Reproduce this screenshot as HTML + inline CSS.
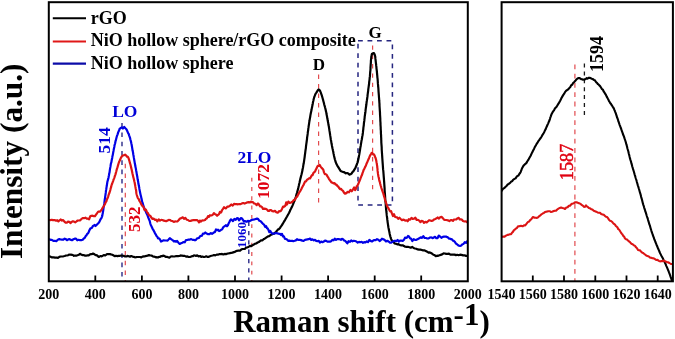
<!DOCTYPE html>
<html><head><meta charset="utf-8"><style>
html,body{margin:0;padding:0;background:#fff;}
body{width:675px;height:339px;overflow:hidden;}
svg{display:block;}
text{font-family:"Liberation Serif","Times New Roman",serif;}
.b{font-weight:bold;}
</style></head><body>
<svg width="675" height="339" viewBox="0 0 675 339">
<rect width="675" height="339" fill="#fff"/>
<line x1="122.0" y1="121.0" x2="122.0" y2="279.0" stroke="#2a2a88" stroke-width="1.4" stroke-dasharray="4.6 4.7" stroke-dashoffset="7.20"/>
<line x1="125.3" y1="160.0" x2="125.3" y2="281.0" stroke="#e24a4e" stroke-width="1.2" stroke-dasharray="4.6 5.1" stroke-dashoffset="6.00"/>
<line x1="248.8" y1="222.0" x2="248.8" y2="280.0" stroke="#2a2a88" stroke-width="1.4" stroke-dasharray="4.3 5.0" stroke-dashoffset="0.30"/>
<line x1="251.8" y1="177.7" x2="251.8" y2="281.0" stroke="#e24a4e" stroke-width="1.2" stroke-dasharray="3.9 5.4" stroke-dashoffset="9.30"/>
<line x1="318.6" y1="74.6" x2="318.6" y2="205.0" stroke="#e24a4e" stroke-width="1.2" stroke-dasharray="4.5 5.0" stroke-dashoffset="9.50"/>
<line x1="372.6" y1="45.5" x2="372.6" y2="194.0" stroke="#e24a4e" stroke-width="1.2" stroke-dasharray="4.3 5.0" stroke-dashoffset="9.30"/>
<rect x="358" y="40.8" width="34.4" height="164.2" fill="none" stroke="#262680" stroke-width="1.5" stroke-dasharray="4.8 4.7"/>
<line x1="584.4" y1="63.5" x2="584.4" y2="116.3" stroke="#1a1a1a" stroke-width="1.3" stroke-dasharray="4.0 3.9" stroke-dashoffset="7.90"/>
<line x1="574.9" y1="64.4" x2="574.9" y2="281.0" stroke="#e24a4e" stroke-width="1.2" stroke-dasharray="4.8 4.5" stroke-dashoffset="9.30"/>
<path d="M49.5 256.4L50.6 256.8L52.0 257.4L53.0 257.4L54.0 257.4L55.0 257.7L56.0 257.5L56.9 257.6L58.0 257.8L59.3 256.9L60.6 256.5L62.0 256.5L63.4 256.3L64.7 256.0L66.0 255.5L67.1 255.5L68.0 255.3L69.0 254.5L70.0 254.8L71.0 254.5L72.0 254.9L72.9 255.0L73.9 255.8L75.0 255.5L76.2 255.7L77.5 255.3L78.8 254.8L80.0 253.8L81.1 254.5L82.1 254.9L83.0 255.2L84.0 255.1L84.9 255.7L86.0 255.7L87.3 255.4L88.7 255.4L90.0 254.4L91.1 254.2L92.0 254.1L93.0 253.5L94.0 254.0L95.0 254.7L96.0 255.2L97.0 255.4L97.9 256.3L99.0 257.0L100.3 256.0L101.7 256.3L103.0 255.6L104.1 255.1L105.0 255.5L106.0 254.8L107.0 254.0L108.0 254.1L109.0 254.2L110.0 254.0L110.9 254.5L112.0 254.6L113.3 255.3L114.6 256.1L116.0 255.8L117.3 256.1L118.7 255.8L120.0 255.8L121.3 255.5L122.5 255.7L124.0 255.9L125.1 256.4L126.3 256.5L127.5 255.9L128.8 256.2L130.0 256.7L131.2 256.0L132.5 256.6L133.7 256.8L134.9 257.3L136.0 257.2L137.5 257.0L138.7 257.0L140.0 257.0L141.3 257.4L142.5 256.6L144.0 256.3L145.1 256.3L146.4 255.9L147.6 255.6L148.9 255.1L150.0 255.4L151.5 255.5L152.8 256.4L154.0 256.7L155.1 256.8L156.0 257.4L157.0 257.2L158.0 257.5L159.0 256.9L160.0 256.8L161.0 256.0L161.9 256.3L163.0 255.7L164.2 255.9L165.6 256.8L167.0 256.9L168.2 257.2L169.4 257.7L170.7 256.5L172.0 256.4L173.2 256.5L174.4 256.5L175.7 256.2L176.9 256.0L178.0 256.2L179.5 256.0L180.7 255.4L182.0 255.7L183.3 255.9L184.7 255.9L186.0 256.6L187.4 256.4L188.7 257.0L190.0 256.8L191.1 256.6L192.0 256.2L193.0 256.2L194.0 255.4L194.9 255.5L196.0 255.9L197.2 255.3L198.6 256.5L200.0 256.0L201.2 256.9L202.4 256.5L203.7 257.0L205.0 256.8L206.3 256.3L207.6 256.9L208.8 256.8L210.0 256.2L211.4 255.8L212.7 255.5L214.0 255.0L215.3 255.4L216.7 254.6L218.0 254.6L219.3 254.2L220.7 254.2L222.0 253.9L223.3 254.5L224.7 253.9L226.0 254.1L227.1 253.7L228.2 253.5L230.0 253.2L231.1 252.8L232.4 252.6L233.9 252.1L235.4 251.6L237.0 250.8L238.5 250.5L240.0 250.7L241.2 249.6L242.5 249.0L243.8 249.0L245.0 248.8L246.2 247.5L247.5 247.4L248.8 246.7L250.0 245.9L251.3 246.1L252.5 245.2L253.8 244.6L255.1 243.7L256.4 243.4L257.6 242.5L258.8 242.0L260.0 241.1L261.3 240.3L262.5 240.4L263.6 239.1L264.7 238.7L265.8 237.9L266.9 237.1L268.0 236.4L269.2 236.1L270.5 235.1L271.7 234.5L272.9 233.9L274.0 233.6L275.0 232.7L276.1 231.7L277.1 230.6L278.1 229.4L279.0 229.1L280.0 228.0L280.7 226.7L281.4 225.9L282.1 224.8L282.8 223.7L283.5 222.5L284.3 221.2L285.0 220.1L285.7 218.7L286.3 217.7L287.0 216.5L287.7 215.2L288.4 214.0L289.1 212.7L289.8 211.2L290.4 209.8L291.0 208.8L291.6 207.4L292.2 206.2L292.7 205.1L293.3 203.6L293.8 202.3L294.3 201.3L294.8 200.0L295.3 198.5L295.8 197.1L296.2 195.6L296.6 194.1L297.0 192.8L297.4 191.3L297.8 189.9L298.2 188.6L298.5 187.1L298.8 185.8L299.1 184.2L299.5 182.8L299.8 181.3L300.1 179.9L300.4 178.6L300.8 177.1L301.1 175.9L301.5 174.5L301.8 173.2L302.2 171.4L302.5 170.1L302.7 168.8L303.0 167.5L303.2 166.1L303.4 164.8L303.7 163.6L303.9 162.1L304.1 160.8L304.3 159.4L304.5 158.1L304.7 156.6L304.9 154.9L305.1 153.6L305.3 151.9L305.5 150.3L305.7 149.1L305.9 147.8L306.0 146.3L306.2 144.9L306.4 143.3L306.6 142.0L306.8 140.5L307.0 139.1L307.1 137.7L307.3 136.4L307.5 135.1L307.7 133.7L307.8 132.4L308.0 131.1L308.2 130.0L308.3 128.6L308.5 127.5L308.7 125.9L308.9 124.7L309.1 123.4L309.3 121.9L309.5 120.8L309.7 119.5L310.0 117.9L310.2 116.7L310.4 115.4L310.7 113.8L310.9 112.7L311.2 111.4L311.5 110.1L311.7 108.8L312.0 107.6L312.2 106.5L312.5 105.1L312.8 103.5L313.0 102.1L313.3 100.9L313.6 99.5L314.0 98.0L314.4 96.6L314.8 95.7L315.2 94.6L315.8 93.4L316.4 92.6L317.0 91.6L317.8 90.3L318.6 89.4L319.4 89.9L320.2 91.2L320.6 92.2L321.0 93.2L321.4 94.3L321.8 95.4L322.2 96.7L322.6 98.2L323.0 99.6L323.4 101.2L323.7 102.3L324.0 103.4L324.3 104.7L324.7 106.1L325.0 107.3L325.4 108.7L325.7 110.1L326.0 111.4L326.3 112.6L326.5 114.1L326.8 115.5L327.1 117.0L327.3 118.3L327.6 119.8L327.8 121.1L328.1 122.4L328.3 123.7L328.5 125.1L328.8 126.3L329.0 127.5L329.2 128.8L329.4 130.2L329.6 131.4L329.8 132.7L330.0 134.0L330.2 135.4L330.4 136.6L330.6 137.9L330.8 139.5L331.1 140.7L331.3 142.2L331.5 143.6L331.8 144.8L332.0 146.0L332.3 147.5L332.5 148.5L332.8 149.6L333.0 150.7L333.3 152.0L333.5 153.4L333.8 154.6L334.0 155.7L334.3 157.0L334.6 158.3L334.9 159.5L335.3 160.7L335.6 161.9L336.1 163.1L336.6 164.3L337.3 165.6L338.1 166.9L338.9 168.2L339.8 169.6L340.6 171.0L341.9 171.6L343.1 172.1L344.2 172.1L345.7 173.3L347.0 173.0L348.3 173.6L349.5 174.6L350.5 174.3L351.5 173.6L352.3 172.3L353.3 171.4L353.9 170.4L354.5 169.4L355.2 168.3L355.9 166.7L356.5 165.3L357.0 164.0L357.4 162.8L357.8 161.4L358.2 159.9L358.5 158.5L358.8 157.1L359.0 155.9L359.3 154.4L359.5 153.0L359.8 151.4L360.0 150.0L360.2 148.6L360.4 147.3L360.7 145.9L360.9 144.5L361.1 143.2L361.3 142.1L361.5 140.7L361.8 139.5L362.0 138.3L362.2 136.8L362.5 135.5L362.7 134.0L362.9 132.9L363.0 131.6L363.1 130.5L363.3 129.1L363.4 127.6L363.6 126.3L363.8 125.0L363.9 123.5L364.1 121.8L364.3 120.9L364.4 119.5L364.6 118.2L364.7 116.7L364.9 115.4L365.1 113.9L365.3 112.8L365.5 111.2L365.6 109.9L365.8 108.3L366.0 107.0L366.2 105.5L366.4 104.3L366.5 103.1L366.7 101.5L366.9 100.4L367.1 99.0L367.3 97.5L367.5 96.2L367.6 94.8L367.8 93.4L368.0 92.0L368.2 90.6L368.3 89.2L368.5 87.8L368.7 86.3L368.9 85.0L369.1 83.6L369.2 81.9L369.4 80.6L369.6 79.1L369.7 77.7L369.9 76.4L370.0 75.0L370.1 73.7L370.2 71.9L370.4 70.5L370.5 68.9L370.5 67.4L370.6 66.1L370.7 64.6L370.8 63.4L370.9 62.1L370.9 60.9L371.0 60.0L371.2 58.0L371.3 56.8L371.4 55.9L371.6 55.2L371.9 53.9L372.4 53.8L373.2 53.1L374.0 53.1L374.5 54.2L375.0 55.7L375.2 56.4L375.3 57.4L375.4 58.7L375.6 60.1L375.8 62.0L375.9 63.1L376.1 64.3L376.2 65.7L376.4 67.0L376.5 68.6L376.7 70.0L376.9 71.6L377.0 73.2L377.2 75.2L377.3 76.2L377.4 77.6L377.6 78.9L377.7 80.3L377.8 81.8L377.9 83.4L378.0 84.5L378.1 86.0L378.3 87.5L378.4 88.9L378.5 90.6L378.6 92.1L378.7 93.3L378.8 94.6L378.9 96.0L379.0 97.5L379.1 98.5L379.2 100.2L379.3 101.4L379.4 103.0L379.5 104.2L379.5 105.7L379.6 107.0L379.7 108.5L379.8 110.1L379.9 111.5L380.0 112.8L380.0 114.2L380.1 115.5L380.2 117.2L380.3 118.7L380.3 120.2L380.4 121.7L380.5 123.0L380.5 124.6L380.6 126.0L380.7 127.5L380.7 128.9L380.8 130.0L380.9 131.5L380.9 133.0L381.0 134.3L381.1 135.5L381.1 136.9L381.2 138.0L381.2 139.4L381.3 140.7L381.3 142.1L381.4 143.5L381.5 144.9L381.6 146.2L381.7 147.6L381.7 149.0L381.8 150.5L381.9 152.0L382.0 153.4L382.1 155.0L382.2 156.4L382.3 158.0L382.4 159.5L382.5 160.8L382.6 162.4L382.7 163.7L382.8 165.0L382.9 166.5L383.0 168.0L383.1 169.4L383.3 170.8L383.4 172.1L383.5 173.5L383.6 174.6L383.7 176.1L383.8 177.4L383.9 178.6L384.0 180.0L384.1 181.4L384.2 182.6L384.3 184.2L384.4 185.6L384.5 187.0L384.6 188.4L384.6 189.6L384.7 191.0L384.8 192.5L384.9 193.8L385.0 195.0L385.1 196.4L385.2 198.1L385.3 199.7L385.4 201.2L385.6 202.6L385.7 203.9L385.8 205.5L385.9 206.7L386.0 207.8L386.1 209.5L386.3 210.7L386.4 212.0L386.6 213.3L386.7 214.7L386.8 215.7L387.0 217.0L387.2 218.4L387.3 219.7L387.5 220.8L387.6 222.1L387.8 223.3L388.0 224.7L388.2 226.0L388.4 227.4L388.7 228.7L388.9 230.1L389.2 231.3L389.5 232.7L389.7 234.0L390.0 235.1L390.4 236.7L390.8 238.0L391.2 239.1L391.7 240.2L392.5 241.1L393.4 241.9L394.5 243.4L395.7 243.8L397.1 244.3L398.5 244.1L399.4 244.8L400.3 245.1L401.4 245.3L403.0 245.3L404.0 246.1L405.2 246.7L406.5 246.8L407.9 246.8L409.4 247.2L410.8 247.7L412.2 246.9L413.6 248.0L415.0 248.5L416.3 248.8L417.7 249.4L419.1 249.6L420.5 249.6L421.8 250.0L423.1 250.4L424.2 250.3L425.8 251.0L427.2 251.7L428.5 252.6L429.8 252.4L431.0 253.0L432.2 253.7L433.4 254.8L434.6 255.1L435.8 256.2L437.0 255.7L438.2 255.8L439.5 255.3L440.7 254.9L442.1 254.4L443.6 253.3L444.8 253.5L446.2 253.9L447.6 253.8L449.0 253.7L450.4 254.6L451.8 254.6L453.0 254.7L454.6 254.6L456.0 255.1L457.3 254.8L458.6 255.2L460.0 254.7L461.5 254.9L463.1 255.4L464.7 255.3L466.0 255.9L467.0 255.8" fill="none" stroke="#000000" stroke-width="2.2" stroke-linejoin="round" stroke-linecap="round"/>
<path d="M49.5 239.3L50.5 239.9L51.8 239.8L53.4 240.9L55.0 240.8L56.3 241.2L57.8 239.7L59.3 239.1L60.7 239.5L62.0 239.7L63.4 239.6L64.6 238.7L65.8 239.1L67.0 240.2L68.3 239.4L69.6 239.1L70.8 239.9L72.0 240.2L73.4 239.3L74.7 238.7L76.0 238.7L77.3 240.3L78.7 239.8L80.0 240.2L81.3 240.1L82.7 239.7L84.0 238.2L84.8 237.9L85.7 236.0L86.5 235.3L87.3 233.7L88.0 233.5L88.7 232.0L89.3 230.5L89.9 229.4L90.5 228.4L91.8 228.0L93.0 225.9L93.8 225.5L94.7 225.0L95.5 226.0L96.8 224.7L98.0 223.5L98.8 222.7L99.5 221.7L100.2 220.0L100.8 218.9L101.4 218.2L102.0 216.6L102.3 215.6L102.5 214.3L102.7 213.6L102.9 212.2L103.2 210.6L103.4 209.1L103.6 207.4L103.8 206.7L104.0 205.2L104.2 204.0L104.4 202.6L104.6 201.0L104.8 199.2L105.0 198.1L105.2 196.6L105.4 195.3L105.6 193.8L105.8 192.4L106.0 190.5L106.2 189.7L106.4 188.1L106.6 186.9L106.8 185.8L107.0 184.3L107.3 182.3L107.6 181.1L107.9 179.9L108.2 178.9L108.5 177.7L108.8 175.9L109.0 175.2L109.2 173.6L109.5 172.6L109.7 171.1L109.9 169.7L110.1 168.4L110.4 166.9L110.6 165.6L110.8 164.1L111.1 163.0L111.4 162.1L111.6 160.8L111.9 159.3L112.2 157.9L112.4 156.3L112.7 155.4L113.0 153.8L113.2 152.4L113.5 151.0L113.7 149.7L114.0 148.3L114.3 147.0L114.5 145.5L114.8 144.4L115.1 143.5L115.4 141.7L115.8 140.4L116.1 139.2L116.4 138.0L116.8 136.5L117.1 135.6L117.6 134.3L118.1 132.7L118.6 131.4L119.1 130.5L119.6 128.9L120.6 128.1L121.7 127.3L122.9 128.5L124.2 126.9L125.4 128.3L126.6 129.5L127.1 130.8L127.6 131.8L128.1 133.1L128.6 133.7L129.1 135.3L129.5 136.4L130.0 137.8L130.4 139.6L130.7 140.5L131.0 141.6L131.3 143.3L131.6 144.5L131.9 146.2L132.2 148.1L132.4 149.3L132.6 150.8L132.9 151.8L133.1 153.0L133.3 154.5L133.6 156.0L133.8 157.4L134.1 159.1L134.3 160.3L134.5 161.4L134.8 163.3L135.1 164.6L135.3 166.1L135.6 167.4L135.9 168.9L136.1 170.2L136.4 171.7L136.6 172.9L136.8 174.3L137.1 175.7L137.3 176.7L137.5 178.3L137.7 179.6L138.0 181.0L138.2 182.0L138.4 183.8L138.7 184.9L138.9 186.1L139.2 187.4L139.4 189.0L139.7 190.4L139.9 191.6L140.2 193.0L140.5 194.4L140.9 196.1L141.2 197.3L141.5 198.9L141.9 200.4L142.2 202.0L142.6 202.7L142.9 203.9L143.2 205.0L143.6 206.4L144.0 207.3L144.4 208.5L144.9 209.8L145.5 210.9L146.0 212.1L146.5 213.3L147.0 214.1L147.6 215.7L148.2 217.3L148.8 218.8L149.3 220.0L149.7 220.9L150.0 222.2L150.3 223.6L150.7 224.7L151.3 225.9L151.9 227.2L152.6 228.8L153.3 229.9L153.9 231.0L154.5 232.1L155.1 233.6L155.7 234.3L156.4 235.8L157.2 236.5L158.0 238.4L158.9 238.3L159.9 239.3L161.0 241.5L162.2 240.9L163.6 240.3L165.0 240.5L166.2 240.5L167.6 240.6L168.9 239.1L170.0 238.2L171.1 239.2L172.1 239.9L173.0 240.4L173.9 241.4L174.9 241.0L176.0 241.7L177.1 241.0L178.4 242.7L179.7 243.9L181.0 243.3L182.3 242.7L183.6 242.0L184.8 242.3L186.0 240.0L187.4 239.9L188.6 239.7L190.0 239.6L191.2 239.1L192.6 239.9L193.9 239.9L195.0 240.3L196.1 239.7L197.1 238.3L198.0 238.2L199.0 238.0L200.0 236.2L201.0 235.9L202.0 235.6L202.9 233.6L204.0 233.7L205.3 232.5L206.6 233.6L208.0 234.2L209.4 234.2L210.8 233.1L212.0 233.8L213.1 233.1L214.0 232.3L214.9 232.2L216.0 229.5L217.0 230.2L218.0 229.7L219.1 231.1L220.0 230.7L221.1 229.8L222.0 229.5L222.7 228.4L223.3 227.1L224.0 226.6L225.0 226.0L226.0 225.2L227.0 226.3L228.0 225.0L228.5 223.7L229.0 222.6L229.5 221.8L230.2 220.2L231.0 219.4L231.8 220.0L233.0 221.1L234.3 219.0L235.7 219.8L237.0 218.2L238.1 218.4L239.0 220.4L240.0 219.2L241.0 218.0L242.0 218.4L243.1 220.2L244.0 221.5L244.9 221.0L246.0 221.6L246.9 221.8L247.9 220.8L249.0 221.2L250.3 220.7L251.6 220.0L253.0 219.7L254.3 219.5L255.6 219.0L257.0 218.6L258.2 219.1L259.4 220.8L260.7 221.2L262.0 222.7L263.0 223.9L264.0 224.6L265.1 226.8L266.1 226.1L267.0 228.2L267.8 228.6L268.6 230.3L269.4 232.2L270.2 230.9L271.0 232.2L272.2 233.6L273.5 233.6L274.8 233.5L276.0 233.0L277.4 233.4L278.8 233.8L280.0 233.8L281.0 235.0L282.0 233.8L283.0 236.5L283.9 236.4L284.9 238.7L285.9 239.0L287.0 239.5L288.2 240.9L289.4 240.6L290.7 241.0L292.0 240.7L293.3 241.2L294.6 240.8L295.8 240.4L297.0 239.2L298.4 240.0L299.7 239.9L301.0 240.1L302.3 240.6L303.6 240.8L305.0 239.8L306.2 239.6L307.4 239.4L308.7 239.2L310.0 238.6L311.2 239.9L312.5 239.4L313.8 240.3L315.0 239.9L316.2 240.9L317.5 241.2L318.8 240.9L320.0 242.5L321.2 241.5L322.5 242.2L323.8 241.6L325.0 240.6L326.2 240.9L327.4 241.7L328.7 241.7L330.0 241.7L331.1 241.3L332.3 239.9L333.6 240.3L334.8 238.7L336.0 239.9L337.2 239.1L338.5 239.0L339.7 239.3L340.9 239.8L342.0 238.9L343.1 239.3L344.1 240.5L345.0 240.7L346.0 241.8L347.3 243.3L348.6 241.2L350.0 241.8L351.2 240.4L352.5 241.3L353.8 240.8L355.0 241.0L356.4 241.5L357.7 242.6L359.0 241.9L360.3 242.2L361.6 241.8L363.0 242.8L364.2 242.1L365.5 242.3L366.8 241.4L368.0 242.2L369.4 239.9L370.6 240.9L372.0 241.5L373.2 240.6L374.4 240.0L375.7 240.1L377.0 239.2L378.3 239.8L379.6 241.0L380.8 240.1L382.0 238.7L383.4 239.2L384.7 240.0L386.0 241.4L387.3 240.8L388.6 241.5L390.0 242.7L391.2 242.7L392.4 241.8L393.7 241.1L395.0 240.7L396.3 241.1L397.6 240.0L398.8 241.7L400.0 240.6L401.4 240.7L402.7 240.9L404.0 239.7L405.0 237.6L406.1 237.9L407.1 237.4L408.0 236.0L409.0 236.5L410.0 238.3L411.0 238.5L412.3 241.0L413.7 239.1L415.0 239.9L416.0 240.0L417.0 239.4L418.0 238.9L419.3 238.3L420.6 237.4L422.0 237.9L423.3 236.2L424.7 238.0L426.0 238.0L427.3 238.5L428.6 238.4L430.0 237.5L431.2 237.4L432.4 238.1L433.7 237.6L435.0 236.8L436.3 238.2L437.6 238.1L438.8 235.6L440.0 236.5L441.4 237.8L442.8 236.9L444.0 236.7L445.0 236.6L446.0 236.5L447.0 237.1L447.9 237.3L448.9 238.7L450.0 238.6L451.0 239.2L452.0 239.4L452.9 240.7L453.9 240.9L455.0 242.1L456.0 243.6L457.0 244.2L458.1 245.2L459.1 245.8L460.0 246.0L461.3 245.5L462.4 244.3L463.5 244.0L464.8 242.1L466.1 242.8L467.0 241.5" fill="none" stroke="#0000e6" stroke-width="2.2" stroke-linejoin="round" stroke-linecap="round"/>
<path d="M49.5 220.0L50.4 220.1L51.7 219.8L53.1 220.1L54.6 220.1L56.0 220.7L57.2 220.2L58.4 221.4L59.6 220.3L60.8 219.5L62.0 220.6L63.2 220.1L64.4 221.6L65.6 222.6L66.8 222.7L68.0 221.6L69.2 221.8L70.4 223.1L71.6 221.9L72.8 221.3L74.0 221.6L75.2 222.3L76.5 221.4L77.7 220.5L78.9 220.5L80.0 220.4L81.5 219.0L82.7 218.0L84.0 218.2L85.4 217.7L86.7 218.6L88.0 218.7L89.1 219.3L90.2 216.3L91.3 215.9L92.5 215.7L93.8 216.1L95.0 216.2L96.0 214.6L96.9 213.5L97.9 212.0L98.7 211.6L99.9 211.7L101.0 210.5L101.8 209.3L102.5 208.1L103.2 207.0L103.8 206.1L104.4 205.0L105.0 204.0L105.5 202.7L106.0 201.8L106.5 201.1L107.0 199.1L107.5 198.3L108.0 197.1L108.4 195.7L108.9 194.2L109.4 193.0L109.8 191.6L110.3 190.1L110.7 188.3L111.1 187.2L111.4 185.8L111.8 184.5L112.2 183.5L112.7 182.1L113.1 181.1L113.5 179.7L114.0 178.6L114.5 177.3L114.9 175.9L115.4 174.6L115.8 173.1L116.2 171.8L116.5 170.6L116.9 168.9L117.3 167.9L117.7 166.5L118.0 165.4L118.5 163.7L118.9 162.5L119.3 161.4L119.8 160.5L120.2 159.5L120.9 157.9L121.7 156.7L122.5 155.5L123.8 155.3L125.1 154.6L126.0 155.3L126.9 156.7L127.7 156.6L128.2 157.3L128.7 158.7L129.1 159.9L129.5 161.3L129.9 162.9L130.2 163.8L130.5 164.8L130.9 166.6L131.2 167.9L131.5 169.0L131.8 170.3L132.1 171.8L132.4 173.3L132.7 174.6L133.1 176.2L133.4 177.4L133.7 178.6L134.1 180.2L134.3 181.3L134.6 182.3L134.9 184.0L135.2 185.6L135.4 186.9L135.7 188.5L135.9 189.4L136.2 191.0L136.3 192.8L136.5 193.8L136.8 195.0L137.2 196.2L137.6 197.3L138.0 198.3L138.6 198.9L139.2 200.4L139.8 201.5L140.6 202.7L141.3 204.2L142.1 205.6L142.9 206.5L143.5 206.8L144.5 210.0L145.3 209.4L146.0 209.8L146.7 211.5L147.3 212.6L148.0 213.1L148.8 215.1L149.7 215.5L150.5 216.2L151.5 217.8L152.5 218.9L153.6 218.7L155.0 219.8L156.1 219.7L157.3 221.4L158.7 219.3L160.0 220.6L161.2 219.9L162.5 220.0L163.8 220.7L165.0 220.9L166.2 221.2L167.5 220.5L168.8 219.9L170.0 220.0L171.2 220.8L172.5 221.1L173.8 221.9L175.0 221.4L176.3 221.5L177.6 221.3L178.8 220.0L180.0 218.5L181.4 218.1L182.7 217.3L184.0 218.9L185.3 217.8L186.7 219.7L188.0 220.0L189.3 221.0L190.7 220.9L192.0 220.3L193.4 220.2L194.7 220.2L196.0 220.2L197.1 220.1L198.1 221.0L199.0 222.4L199.9 220.6L201.0 221.6L202.1 220.4L203.5 220.5L205.0 220.0L205.9 218.8L206.9 218.4L208.0 216.1L209.0 216.9L210.0 215.2L211.3 215.5L212.6 215.0L213.9 213.1L215.0 214.1L216.2 214.8L217.1 215.8L218.0 215.0L219.0 214.1L220.0 211.8L220.7 212.6L221.4 211.9L222.2 209.9L223.0 208.9L224.0 207.2L224.9 207.9L226.0 208.4L227.3 206.7L228.6 206.6L230.0 205.8L231.3 204.5L232.7 205.6L234.0 203.8L235.3 204.1L236.7 204.1L238.0 204.3L239.3 204.0L240.7 204.1L242.0 203.4L243.3 203.0L244.7 203.6L246.0 202.9L247.4 202.3L248.7 202.1L250.0 202.5L251.0 201.7L251.9 202.2L253.0 202.2L254.1 203.5L255.4 203.8L256.7 205.1L258.0 203.5L259.0 204.6L260.0 206.3L261.0 206.4L262.0 207.1L263.0 209.0L264.3 208.6L265.6 208.8L266.9 209.4L268.0 210.8L269.1 211.0L270.0 210.0L271.0 210.2L272.3 211.2L273.6 211.4L275.0 210.9L276.3 212.2L277.7 212.7L279.0 211.2L280.0 211.4L281.0 210.8L282.0 208.9L283.0 206.7L283.8 206.8L284.6 206.3L285.4 205.6L286.2 202.4L287.0 204.5L288.3 201.6L289.7 202.8L291.0 202.6L292.0 202.1L292.9 201.2L293.9 199.8L295.0 199.8L295.7 198.1L296.4 197.0L297.1 196.8L297.8 195.2L298.5 194.1L299.3 192.3L300.0 191.5L300.7 190.2L301.4 189.0L302.1 187.4L302.9 185.9L303.6 184.8L304.3 183.3L305.0 181.6L306.0 181.4L307.0 179.7L308.0 179.2L309.0 178.3L310.0 178.5L310.8 177.1L311.7 175.4L312.6 175.1L313.4 173.0L314.2 172.2L315.0 171.6L315.8 169.8L316.6 168.3L317.3 166.6L318.1 165.7L318.8 166.0L319.7 164.9L320.6 166.6L321.6 167.9L322.5 168.8L323.3 169.8L324.0 172.4L324.8 174.1L325.6 174.1L326.5 174.6L327.3 176.2L328.1 177.3L328.9 178.8L329.7 180.0L330.6 181.2L331.4 182.4L332.4 182.6L333.5 183.4L334.6 183.2L335.6 184.6L336.5 184.6L337.5 186.2L338.3 186.6L339.1 188.0L340.0 189.1L340.9 188.8L341.9 190.0L343.0 190.9L344.0 192.6L345.0 193.6L346.4 193.1L347.7 191.8L349.0 192.3L350.4 190.0L351.7 191.3L353.0 189.4L354.1 187.5L355.1 190.2L356.0 188.6L356.7 186.2L357.3 185.9L357.9 184.7L358.5 183.5L359.0 182.1L359.5 181.0L360.0 179.9L360.5 178.4L361.0 177.2L361.5 175.8L362.0 174.9L362.5 173.1L363.0 171.9L363.5 170.3L364.0 169.3L364.5 168.5L365.0 167.1L365.5 166.3L366.0 165.2L366.5 163.8L367.0 162.8L367.5 161.6L368.0 160.4L368.5 159.3L369.0 158.2L369.5 156.9L370.2 155.3L371.0 154.0L371.7 152.8L372.4 153.0L373.2 154.5L373.9 154.3L374.7 155.8L375.3 157.5L375.7 158.4L376.0 159.6L376.3 160.8L376.5 162.2L376.8 163.5L377.0 165.1L377.2 166.2L377.3 167.6L377.5 168.9L377.6 170.9L377.8 172.2L378.0 173.9L378.2 175.1L378.5 176.7L378.8 177.8L379.1 179.4L379.5 181.2L379.8 181.9L380.2 183.8L380.6 185.3L381.0 186.5L381.4 188.0L381.9 189.5L382.3 190.6L382.8 192.2L383.3 193.4L383.7 194.9L384.1 196.4L384.6 198.0L385.0 199.6L385.5 201.1L385.9 202.2L386.4 204.2L386.8 205.2L387.5 206.8L388.2 207.9L388.8 209.0L389.5 210.3L390.3 211.5L391.1 211.2L392.0 213.7L393.0 216.1L394.0 214.2L395.0 216.8L396.0 217.1L397.1 217.4L398.2 218.8L399.4 217.7L400.7 219.0L402.0 220.2L403.0 219.6L404.1 219.9L405.2 220.6L406.5 220.3L407.6 221.3L408.9 219.2L410.2 219.7L411.5 217.9L412.7 218.9L414.1 218.7L415.4 217.7L416.6 219.9L418.0 219.8L419.2 220.6L420.4 222.2L421.7 220.9L422.9 221.2L424.0 222.9L425.4 221.9L426.7 222.4L428.0 221.2L429.1 220.2L430.3 220.5L431.6 221.0L433.0 220.4L434.1 219.4L435.3 218.9L436.6 218.3L437.8 217.5L439.0 218.6L440.1 217.3L441.5 216.9L442.6 217.9L443.8 219.4L445.0 220.0L446.4 220.0L447.9 220.3L449.4 221.1L450.7 220.2L451.9 220.2L453.0 220.9L454.0 219.5L455.0 219.5L456.3 219.4L457.4 218.4L458.7 217.8L459.7 219.5L460.8 219.4L461.9 219.6L463.0 221.0L464.5 221.5L466.0 221.3L467.0 222.2" fill="none" stroke="#dc1414" stroke-width="2.2" stroke-linejoin="round" stroke-linecap="round"/>
<clipPath id="rc"><rect x="501.6" y="2.2" width="171.3" height="279.1"/></clipPath>
<path clip-path="url(#rc)" d="M500.5 191.8L501.2 191.2L502.1 190.2L503.2 188.6L504.4 188.0L505.6 186.8L506.8 185.7L507.7 184.5L508.8 183.9L509.7 183.2L510.5 182.5L511.3 181.4L512.2 181.2L513.3 179.6L514.5 178.9L515.6 178.4L516.6 176.8L517.6 175.9L518.5 175.5L519.3 174.0L520.1 173.0L520.7 171.9L521.2 170.7L521.7 169.1L522.2 168.0L522.8 166.9L523.6 165.6L524.5 164.7L525.4 163.8L526.3 163.1L527.0 161.9L527.7 160.8L528.5 159.6L529.2 158.2L529.9 157.0L530.5 156.0L531.1 154.7L531.7 153.4L532.3 152.2L532.9 151.0L533.4 150.0L534.1 148.7L534.7 147.3L535.3 146.2L536.0 145.1L536.7 143.8L537.5 142.7L538.4 141.1L539.3 139.9L540.0 138.9L540.7 138.0L541.5 136.7L542.2 135.4L543.0 134.2L543.7 133.0L544.4 131.7L545.0 130.3L545.7 129.1L546.3 127.5L546.9 126.3L547.4 125.0L548.1 123.6L548.6 122.3L549.1 121.3L549.6 120.0L550.0 118.8L550.4 117.3L550.8 116.3L551.3 114.8L551.9 113.5L552.5 112.4L553.3 111.2L554.0 110.3L554.8 108.7L555.6 107.7L556.3 107.1L557.2 105.7L558.0 104.4L558.8 103.2L559.5 101.9L560.2 100.7L560.8 99.6L561.4 98.1L562.0 97.1L562.7 95.9L563.5 94.6L564.2 93.7L565.0 92.1L566.0 90.9L567.0 90.1L568.0 89.5L568.8 88.7L569.5 87.8L570.4 86.9L571.2 85.2L572.2 84.8L573.1 83.0L574.0 82.2L575.1 81.1L576.1 79.8L577.0 78.9L578.2 78.1L579.3 78.0L580.3 78.5L581.2 79.2L582.1 79.3L583.0 79.7L584.2 79.4L585.5 79.3L586.5 78.1L587.5 78.7L588.5 77.9L589.6 77.8L590.8 78.3L592.0 78.9L592.9 79.1L593.9 79.9L594.8 80.2L595.6 81.4L596.3 82.3L597.0 82.8L597.7 84.0L598.4 84.3L599.3 85.4L600.1 86.1L601.0 87.5L601.9 89.1L602.9 89.7L603.7 91.5L604.4 92.4L605.0 93.5L605.6 94.3L606.2 95.5L606.7 96.6L607.3 97.6L607.9 98.8L608.4 99.7L609.0 101.1L609.6 101.9L610.2 103.1L610.8 103.6L611.5 104.9L612.1 105.7L612.6 106.6L613.2 107.4L613.9 108.6L614.5 110.2L614.9 110.9L615.3 112.1L615.8 113.4L616.2 114.6L616.7 116.1L617.1 117.5L617.6 118.7L618.0 119.8L618.4 121.4L618.9 122.6L619.3 123.8L619.7 125.1L620.2 126.2L620.6 127.5L621.1 128.6L621.5 129.9L622.0 131.3L622.4 132.4L622.9 134.0L623.3 135.0L623.8 136.2L624.3 137.6L624.7 138.9L625.1 140.0L625.5 141.3L626.0 142.9L626.4 144.4L626.8 145.7L627.1 147.1L627.5 148.7L627.9 150.0L628.3 151.3L628.6 152.7L628.9 154.0L629.3 155.4L629.6 156.8L630.0 158.4L630.5 160.1L630.8 161.0L631.2 162.4L631.5 163.7L631.9 164.9L632.2 166.3L632.6 167.5L633.0 168.9L633.5 170.5L633.9 171.8L634.3 173.2L634.8 175.1L635.2 176.2L635.6 177.7L636.0 179.0L636.5 180.5L636.9 182.1L637.4 183.7L637.8 185.3L638.3 186.7L638.8 188.5L639.2 189.8L639.6 191.2L640.0 192.7L640.4 193.9L640.7 194.9L641.2 197.1L641.6 198.4L642.0 199.7L642.3 200.9L642.6 202.2L642.9 203.4L643.4 205.1L643.8 206.1L644.1 207.5L644.5 208.7L645.0 210.1L645.4 211.7L645.9 212.9L646.3 214.3L646.8 216.0L647.2 217.2L647.7 218.5L648.1 220.1L648.5 221.3L648.9 222.8L649.3 224.2L649.8 225.4L650.2 226.8L650.6 228.2L651.0 229.5L651.4 230.8L651.9 232.3L652.3 233.5L652.8 235.0L653.3 236.3L653.8 237.7L654.3 239.2L654.9 240.5L655.4 242.0L656.0 243.4L656.5 244.7L657.1 246.0L657.6 247.3L658.2 248.8L658.7 249.9L659.4 251.5L660.0 253.0L660.7 254.4L661.4 255.8L662.1 257.0L662.8 258.2L663.4 259.7L664.0 260.8L664.6 262.1L665.3 263.4L665.9 264.9L666.4 266.1L667.0 267.4L667.5 268.6L668.0 269.8L668.5 271.0L669.0 272.4L669.6 273.9L670.1 275.3L670.6 276.9L671.1 278.1L671.5 279.3L671.8 280.0" fill="none" stroke="#000000" stroke-width="2.1" stroke-linejoin="round" stroke-linecap="round"/>
<path clip-path="url(#rc)" d="M500.5 237.2L501.5 236.9L503.0 236.5L504.6 236.7L506.0 235.6L507.5 234.9L508.9 234.6L510.0 234.2L511.1 234.1L512.0 232.7L512.9 231.9L514.0 230.1L514.9 229.6L515.9 228.6L517.0 227.9L518.0 226.4L519.1 226.3L520.0 226.1L521.0 225.7L522.0 226.1L522.9 226.2L524.0 225.3L525.0 225.5L526.0 224.5L527.0 223.1L528.0 221.9L529.1 221.6L530.1 220.2L531.0 219.5L531.9 218.4L533.0 217.0L534.2 217.6L535.7 217.7L537.0 217.9L538.1 217.3L539.0 216.3L540.0 215.7L541.0 214.7L542.0 214.0L543.0 213.3L544.0 212.9L545.0 212.0L546.0 211.7L547.0 211.6L548.0 211.2L549.0 211.3L550.0 211.2L550.9 212.0L552.0 211.8L553.2 211.3L554.6 210.7L556.0 210.8L557.2 209.5L558.5 208.6L559.8 207.9L561.0 207.5L562.4 208.0L563.6 208.2L565.0 209.0L566.2 207.6L567.6 207.2L568.9 205.7L570.0 205.7L571.2 204.3L572.1 203.7L573.0 203.5L574.0 203.1L575.0 202.2L576.0 202.4L577.0 202.3L578.0 202.9L578.9 203.1L580.0 203.6L580.9 204.2L582.0 205.2L583.1 205.9L584.0 206.9L585.0 206.8L586.0 205.3L586.8 206.3L587.8 206.9L588.9 208.0L590.0 208.3L591.2 209.2L592.4 209.6L593.7 210.8L595.0 211.2L596.2 211.7L597.5 212.4L598.8 212.7L600.0 212.8L601.2 214.0L602.5 214.4L603.8 214.8L605.0 215.9L606.0 216.8L607.0 217.0L608.0 218.1L609.0 219.8L610.0 220.7L611.0 221.0L612.0 221.8L613.0 222.9L614.0 223.9L615.0 224.6L615.8 226.0L616.7 226.6L617.5 227.5L618.3 229.2L619.2 229.7L620.0 231.0L620.8 232.3L621.7 233.6L622.5 234.5L623.3 235.9L624.2 236.7L625.0 238.5L626.0 239.2L627.0 239.5L628.0 240.5L629.0 241.4L630.0 242.1L631.0 243.4L632.0 244.1L633.0 244.4L634.0 245.4L635.0 245.9L636.0 247.3L637.0 248.2L638.0 250.0L639.0 250.2L640.0 250.4L641.0 251.6L642.0 252.6L643.0 252.9L644.0 253.7L645.0 254.5L646.2 255.5L647.5 256.1L648.8 256.5L650.0 257.6L651.2 257.8L652.5 258.3L653.8 258.4L655.0 259.1L656.2 260.0L657.5 259.9L658.8 260.9L660.0 261.4L661.3 261.1L662.6 261.1L663.9 260.5L665.0 261.3L666.1 261.7L667.0 262.2L668.0 262.3L669.4 263.0L670.9 264.0L672.0 264.0" fill="none" stroke="#dc1414" stroke-width="2.1" stroke-linejoin="round" stroke-linecap="round"/>
<rect x="48.8" y="2.2" width="419.0" height="279.1" fill="none" stroke="#000" stroke-width="2"/>
<rect x="501.6" y="2.2" width="171.3" height="279.1" fill="none" stroke="#000" stroke-width="2"/>
<line x1="95.3" y1="281.3" x2="95.3" y2="275.5" stroke="#000" stroke-width="1.8"/>
<line x1="141.9" y1="281.3" x2="141.9" y2="275.5" stroke="#000" stroke-width="1.8"/>
<line x1="188.4" y1="281.3" x2="188.4" y2="275.5" stroke="#000" stroke-width="1.8"/>
<line x1="235.0" y1="281.3" x2="235.0" y2="275.5" stroke="#000" stroke-width="1.8"/>
<line x1="281.6" y1="281.3" x2="281.6" y2="275.5" stroke="#000" stroke-width="1.8"/>
<line x1="328.1" y1="281.3" x2="328.1" y2="275.5" stroke="#000" stroke-width="1.8"/>
<line x1="374.7" y1="281.3" x2="374.7" y2="275.5" stroke="#000" stroke-width="1.8"/>
<line x1="421.2" y1="281.3" x2="421.2" y2="275.5" stroke="#000" stroke-width="1.8"/>
<line x1="532.8" y1="281.3" x2="532.8" y2="275.5" stroke="#000" stroke-width="1.8"/>
<line x1="564.0" y1="281.3" x2="564.0" y2="275.5" stroke="#000" stroke-width="1.8"/>
<line x1="595.3" y1="281.3" x2="595.3" y2="275.5" stroke="#000" stroke-width="1.8"/>
<line x1="626.5" y1="281.3" x2="626.5" y2="275.5" stroke="#000" stroke-width="1.8"/>
<line x1="657.7" y1="281.3" x2="657.7" y2="275.5" stroke="#000" stroke-width="1.8"/>
<text class="b" x="48.8" y="299" font-size="14" text-anchor="middle">200</text>
<text class="b" x="95.3" y="299" font-size="14" text-anchor="middle">400</text>
<text class="b" x="141.9" y="299" font-size="14" text-anchor="middle">600</text>
<text class="b" x="188.4" y="299" font-size="14" text-anchor="middle">800</text>
<text class="b" x="235.0" y="299" font-size="14" text-anchor="middle">1000</text>
<text class="b" x="281.6" y="299" font-size="14" text-anchor="middle">1200</text>
<text class="b" x="328.1" y="299" font-size="14" text-anchor="middle">1400</text>
<text class="b" x="374.7" y="299" font-size="14" text-anchor="middle">1600</text>
<text class="b" x="421.2" y="299" font-size="14" text-anchor="middle">1800</text>
<text class="b" x="467.8" y="299" font-size="14" text-anchor="middle">2000</text>
<text class="b" x="501.6" y="299" font-size="14" text-anchor="middle">1540</text>
<text class="b" x="532.8" y="299" font-size="14" text-anchor="middle">1560</text>
<text class="b" x="564.0" y="299" font-size="14" text-anchor="middle">1580</text>
<text class="b" x="595.3" y="299" font-size="14" text-anchor="middle">1600</text>
<text class="b" x="626.5" y="299" font-size="14" text-anchor="middle">1620</text>
<text class="b" x="657.7" y="299" font-size="14" text-anchor="middle">1640</text>
<line x1="52.8" y1="18.3" x2="86" y2="18.3" stroke="#000000" stroke-width="2.1"/>
<line x1="52.8" y1="41.5" x2="86" y2="41.5" stroke="#e01818" stroke-width="2.1"/>
<line x1="52.8" y1="63.6" x2="86" y2="63.6" stroke="#0c0ca8" stroke-width="2.1"/>
<text class="b" x="90.7" y="23.7" font-size="18">rGO</text>
<text class="b" x="90.7" y="46.2" font-size="18">NiO hollow sphere/rGO composite</text>
<text class="b" x="90.7" y="68.7" font-size="18">NiO hollow sphere</text>
<text class="b" x="124.8" y="116.7" font-size="17.5" fill="#0000d8" text-anchor="middle">LO</text>
<text class="b" x="254.4" y="162.5" font-size="17.5" fill="#0000d8" text-anchor="middle">2LO</text>
<text class="b" x="319" y="70.3" font-size="17" text-anchor="middle">D</text>
<text class="b" x="375" y="38.2" font-size="17" text-anchor="middle">G</text>
<text class="b" transform="translate(110.1 140.4) rotate(-90)" font-size="17.5" fill="#0000d8" text-anchor="middle">514</text>
<text class="b" transform="translate(140.2 219.3) rotate(-90)" font-size="17.0" fill="#e00010" text-anchor="middle">532</text>
<text class="b" transform="translate(269.2 181.6) rotate(-90)" font-size="17.5" fill="#e00010" text-anchor="middle">1072</text>
<text class="b" transform="translate(246.0 235.0) rotate(-90)" font-size="13.0" fill="#0000d8" text-anchor="middle">1060</text>
<text class="b" transform="translate(603.0 53.9) rotate(-90)" font-size="18.0" fill="#000" text-anchor="middle">1594</text>
<text stroke="#e00010" stroke-width="0.45" transform="translate(572.9 161.9) rotate(-90)" font-size="18.3" fill="#e00010" text-anchor="middle">1587</text>
<text class="b" transform="translate(21.8 161.3) rotate(-90)" font-size="31.3" text-anchor="middle">Intensity (a.u.)</text>
<text class="b" x="233.2" y="332" font-size="31">Raman shift (cm<tspan dy="-7.3">-1</tspan><tspan dy="7.3">)</tspan></text>
</svg>
</body></html>
